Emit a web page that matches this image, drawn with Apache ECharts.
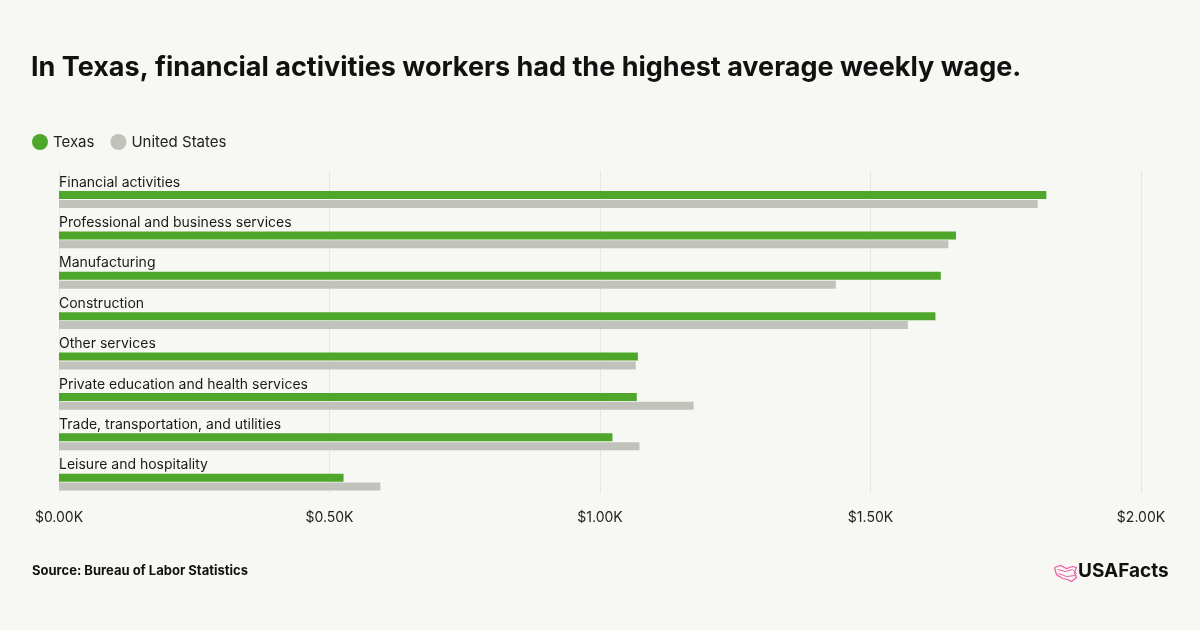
<!DOCTYPE html>
<html>
<head>
<meta charset="utf-8">
<script src="https://cdn.jsdelivr.net/npm/echarts@6/dist/echarts.min.js"></script>
<style>
html,body{margin:0;padding:0;background:#f7f7f3;}
#chart{width:1200px;height:630px;}
</style>
</head>
<body>
<div id="chart"></div>
<script>
const categories = ["Financial activities","Professional and business services","Manufacturing","Construction","Other services","Private education and health services","Trade, transportation, and utilities","Leisure and hospitality"];
const texas = [1825, 1658, 1630, 1620, 1070, 1068, 1023, 526];
const unitedStates = [1809, 1644, 1436, 1569, 1066, 1173, 1073, 594];
const xTicks = [0, 500, 1000, 1500, 2000];

const FONT = 'Inter, "Liberation Sans", sans-serif';
const chart = echarts.init(document.getElementById('chart'));
chart.setOption({
  backgroundColor: '#f7f7f3',
  textStyle: { fontFamily: FONT },
  animation: false,
  title: {
    text: 'In Texas, financial activities workers had the highest average weekly wage.',
    left: 26, top: 49,
    textStyle: { fontFamily: FONT, fontSize: 27, fontWeight: 700, color: '#111' }
  },
  legend: {
    left: 27, top: 129, icon: 'circle', itemWidth: 16, itemHeight: 16, itemGap: 16,
    textStyle: { fontFamily: FONT, fontSize: 15, color: '#222' },
    data: ['Texas', 'United States']
  },
  grid: [
    { left: 59, right: 59, top: 171, height: 322 },
    { left: 59, right: 59, top: 179.3, height: 323 }
  ],
  xAxis: [
    { gridIndex: 0, type: 'value', min: xTicks[0], max: xTicks[xTicks.length-1], interval: 500,
      axisLine: { show: false }, axisTick: { show: false }, axisLabel: { show: false },
      splitLine: { show: true, lineStyle: { color: '#e6e6e2', width: 1 } } },
    { gridIndex: 1, type: 'value', min: xTicks[0], max: xTicks[xTicks.length-1], interval: 500,
      axisLine: { show: false }, axisTick: { show: false }, splitLine: { show: false },
      axisLabel: { margin: 8, fontFamily: FONT, fontSize: 14, color: '#222',
        formatter: v => '$' + (v/1000).toFixed(2) + 'K' } }
  ],
  yAxis: [
    { gridIndex: 0, type: 'category', data: categories, inverse: true, show: false },
    { gridIndex: 1, type: 'category', data: categories, inverse: true,
      axisLine: { show: false }, axisTick: { show: false },
      axisLabel: { inside: true, margin: 0, align: 'left', verticalAlign: 'bottom',
        lineHeight: 34, fontFamily: FONT, fontSize: 14, color: '#1a1a1a' } }
  ],
  series: [
    { name: 'Texas', type: 'bar', xAxisIndex: 1, yAxisIndex: 1, data: texas,
      barWidth: 8, barGap: '12%', itemStyle: { color: '#4ea72a' } },
    { name: 'United States', type: 'bar', xAxisIndex: 1, yAxisIndex: 1, data: unitedStates,
      barWidth: 8, barGap: '12%', itemStyle: { color: '#c2c2bd' } }
  ],
  graphic: [
    { type: 'text', left: 32, top: 565,
      style: { text: 'Source: Bureau of Labor Statistics', font: '700 13px ' + FONT, fill: '#111' } },
    { type: 'polyline', left: 1052, top: 563,
      shape: { points: [[0,2],[6,0],[12,3],[18,1],[22,2],[20,7],[22,12],[17,16],[13,14],[8,13],[2,9],[0,2]] },
      style: { stroke: '#ee5aa8', fill: 'none', lineWidth: 1.2 } },
    { type: 'polyline', left: 1055, top: 567,
      shape: { points: [[0,1],[8,3],[15,1],[19,5]] },
      style: { stroke: '#ee5aa8', fill: 'none', lineWidth: 1 } },
    { type: 'polyline', left: 1056, top: 571,
      shape: { points: [[0,0],[8,3],[17,2]] },
      style: { stroke: '#ee5aa8', fill: 'none', lineWidth: 1 } },
    { type: 'text', left: 1078, top: 562,
      style: { text: 'USAFacts', font: '700 19px ' + FONT, fill: '#111' } }
  ]
});
</script>
</body>
</html>
